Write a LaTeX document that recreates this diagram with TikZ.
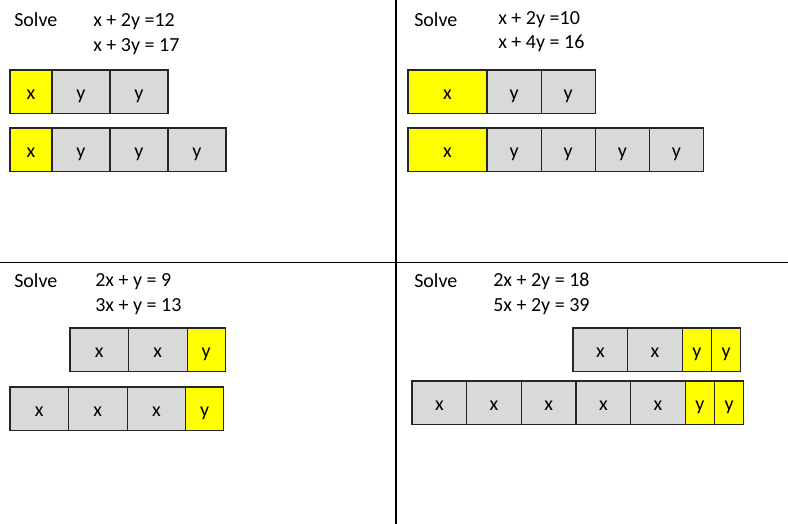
\documentclass[tikz,border=0pt]{standalone}
\usepackage{fontspec}
\setmainfont{Carlito}
\usepackage{tikz}
\usetikzlibrary{positioning}
\usepackage{xcolor}
\definecolor{cellgrey}{HTML}{D9D9D9}
\definecolor{cellyellow}{HTML}{FFFF00}

\tikzset{
	cell/.style={draw=black!85,line width=0.8pt,minimum height=32.6pt,inner sep=0pt,outer sep=0pt,text height=13pt,text depth=1.8pt,font=\fontsize{15}{18}\selectfont},
	yellowcell/.style={cell,fill=cellyellow},
	greycell/.style={cell,fill=cellgrey},
	label/.style={anchor=base west,inner sep=0pt,font=\fontsize{15}{18}\selectfont}
}

\begin{document}
\begin{tikzpicture}[x=0.75pt,y=-0.75pt]
	\useasboundingbox (0,0) rectangle (788,524);
	% dividers
	\coordinate (top) at (396,0);
	\coordinate (bottom) at (396,524);
	\coordinate (left) at (0,262.5);
	\coordinate (right) at (788,262.5);
	\draw[line width=0.8pt] (top) -- (bottom);
	\draw[line width=0.8pt] (left) -- (right);

	% top left
	\node[label] (s1) at (14,27) {Solve};
	\node[label] (e1a) at (93,27) {x + 2y =12};
	\node[label] (e1b) at (93,52) {x + 3y = 17};
	\begin{scope}[every node/.append style={minimum width=43.5pt}]
		\node[yellowcell,anchor=north west,minimum width=31.5pt] (a1) at (10,70) {x};
		\node[greycell,right=0pt of a1] (a2) {y};
		\node[greycell,right=0pt of a2] (a3) {y};

		\node[yellowcell,anchor=north west,minimum width=31.5pt] (b1) at (10,128) {x};
		\node[greycell,right=0pt of b1] (b2) {y};
		\node[greycell,right=0pt of b2] (b3) {y};
		\node[greycell,right=0pt of b3] (b4) {y};
	\end{scope}

	% top right
	\node[label] (s2) at (414,27) {Solve};
	\node[label] (e2a) at (498,25) {x + 2y =10};
	\node[label] (e2b) at (498,49) {x + 4y = 16};
	\begin{scope}[every node/.append style={minimum width=40.6pt}]
		\node[yellowcell,anchor=north west,minimum width=59.25pt] (c1) at (408,70) {x};
		\node[greycell,right=0pt of c1] (c2) {y};
		\node[greycell,right=0pt of c2] (c3) {y};

		\node[yellowcell,anchor=north west,minimum width=59.25pt] (d1) at (408,128) {x};
		\node[greycell,right=0pt of d1] (d2) {y};
		\node[greycell,right=0pt of d2] (d3) {y};
		\node[greycell,right=0pt of d3] (d4) {y};
		\node[greycell,right=0pt of d4] (d5) {y};
	\end{scope}

	% bottom left
	\node[label] (s3) at (14,287) {Solve};
	\node[label] (e3a) at (95,286) {2x + y = 9};
	\node[label] (e3b) at (95,311) {3x + y = 13};
	\begin{scope}[every node/.append style={minimum width=43.9pt}]
		\node[greycell,anchor=north west] (f1) at (70,328) {x};
		\node[greycell,right=0pt of f1] (f2) {x};
		\node[yellowcell,right=0pt of f2,minimum width=28.5pt] (f3) {y};

		\node[greycell,anchor=north west] (g1) at (10,387) {x};
		\node[greycell,right=0pt of g1] (g2) {x};
		\node[greycell,right=0pt of g2] (g3) {x};
		\node[yellowcell,right=0pt of g3,minimum width=28.5pt] (g4) {y};
	\end{scope}

	% bottom right
	\node[label] (s4) at (414,287) {Solve};
	\node[label] (e4a) at (493,286) {2x + 2y = 18};
	\node[label] (e4b) at (493,311) {5x + 2y = 39};
	\begin{scope}[every node/.append style={minimum width=41.0pt}]
		\node[greycell,anchor=north west] (h1) at (573,328) {x};
		\node[greycell,right=0pt of h1] (h2) {x};
		\node[yellowcell,right=0pt of h2,minimum width=21.9pt] (h3) {y};
		\node[yellowcell,right=0pt of h3,minimum width=21.9pt] (h4) {y};

		\node[greycell,anchor=north west] (k1) at (412,381) {x};
		\node[greycell,right=0pt of k1] (k2) {x};
		\node[greycell,right=0pt of k2] (k3) {x};
		\node[greycell,right=0pt of k3] (k4) {x};
		\node[greycell,right=0pt of k4] (k5) {x};
		\node[yellowcell,right=0pt of k5,minimum width=21.9pt] (k6) {y};
		\node[yellowcell,right=0pt of k6,minimum width=21.9pt] (k7) {y};
	\end{scope}
\end{tikzpicture}
\end{document}
